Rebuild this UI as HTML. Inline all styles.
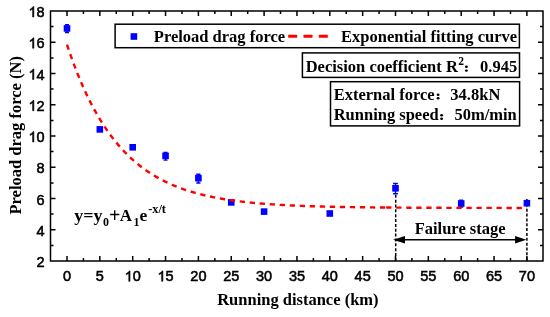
<!DOCTYPE html>
<html><head><meta charset="utf-8"><style>html,body{margin:0;padding:0;background:#fff;}svg{display:block;will-change:transform;}</style></head>
<body>
<svg width="550" height="317" viewBox="0 0 550 317">
<rect width="550" height="317" fill="#fff"/>
<path d="M67.00 261.00V256.00M67.00 11.00V16.00M99.85 261.00V256.00M99.85 11.00V16.00M132.70 261.00V256.00M132.70 11.00V16.00M165.55 261.00V256.00M165.55 11.00V16.00M198.40 261.00V256.00M198.40 11.00V16.00M231.25 261.00V256.00M231.25 11.00V16.00M264.10 261.00V256.00M264.10 11.00V16.00M296.95 261.00V256.00M296.95 11.00V16.00M329.80 261.00V256.00M329.80 11.00V16.00M362.65 261.00V256.00M362.65 11.00V16.00M395.50 261.00V256.00M395.50 11.00V16.00M428.35 261.00V256.00M428.35 11.00V16.00M461.20 261.00V256.00M461.20 11.00V16.00M494.05 261.00V256.00M494.05 11.00V16.00M526.90 261.00V256.00M526.90 11.00V16.00M83.42 261.00V258.00M83.42 11.00V14.00M116.28 261.00V258.00M116.28 11.00V14.00M149.12 261.00V258.00M149.12 11.00V14.00M181.98 261.00V258.00M181.98 11.00V14.00M214.83 261.00V258.00M214.83 11.00V14.00M247.68 261.00V258.00M247.68 11.00V14.00M280.52 261.00V258.00M280.52 11.00V14.00M313.38 261.00V258.00M313.38 11.00V14.00M346.23 261.00V258.00M346.23 11.00V14.00M379.07 261.00V258.00M379.07 11.00V14.00M411.93 261.00V258.00M411.93 11.00V14.00M444.78 261.00V258.00M444.78 11.00V14.00M477.62 261.00V258.00M477.62 11.00V14.00M510.48 261.00V258.00M510.48 11.00V14.00M50.50 245.38H53.50M543.00 245.38H540.00M50.50 229.75H55.50M543.00 229.75H538.00M50.50 214.12H53.50M543.00 214.12H540.00M50.50 198.50H55.50M543.00 198.50H538.00M50.50 182.88H53.50M543.00 182.88H540.00M50.50 167.25H55.50M543.00 167.25H538.00M50.50 151.62H53.50M543.00 151.62H540.00M50.50 136.00H55.50M543.00 136.00H538.00M50.50 120.38H53.50M543.00 120.38H540.00M50.50 104.75H55.50M543.00 104.75H538.00M50.50 89.12H53.50M543.00 89.12H540.00M50.50 73.50H55.50M543.00 73.50H538.00M50.50 57.88H53.50M543.00 57.88H540.00M50.50 42.25H55.50M543.00 42.25H538.00M50.50 26.62H53.50M543.00 26.62H540.00" stroke="#000" stroke-width="1.5" fill="none"/>
<path d="M395.70 194.80V261.00" stroke="#000" stroke-width="1.5" stroke-dasharray="3 1.85" fill="none"/>
<path d="M526.90 199.00V261.00" stroke="#000" stroke-width="1.5" stroke-dasharray="3 1.85" fill="none"/>
<path d="M67.00 24.65V32.45M65.00 24.65H69.00M65.00 32.45H69.00M165.55 152.40V160.10M163.55 152.40H167.55M163.55 160.10H167.55M198.40 174.20V183.00M196.30 174.20H200.50M196.30 183.00H200.50M395.50 183.50V193.70M393.10 183.50H397.90M393.10 193.70H397.90M461.20 200.10V207.10M459.20 200.10H463.20M459.20 207.10H463.20" stroke="#0000ff" stroke-width="1.4" fill="none"/>
<rect x="63.70" y="25.15" width="6.6" height="6.6" fill="#0000ff"/>
<rect x="96.55" y="126.10" width="6.6" height="6.6" fill="#0000ff"/>
<rect x="129.40" y="144.00" width="6.6" height="6.6" fill="#0000ff"/>
<rect x="162.25" y="152.60" width="6.6" height="6.6" fill="#0000ff"/>
<rect x="195.10" y="174.90" width="6.6" height="6.6" fill="#0000ff"/>
<rect x="227.95" y="199.10" width="6.6" height="6.6" fill="#0000ff"/>
<rect x="260.80" y="208.30" width="6.6" height="6.6" fill="#0000ff"/>
<rect x="326.50" y="210.20" width="6.6" height="6.6" fill="#0000ff"/>
<rect x="392.20" y="185.00" width="6.6" height="6.6" fill="#0000ff"/>
<rect x="457.90" y="200.20" width="6.6" height="6.6" fill="#0000ff"/>
<rect x="523.60" y="199.90" width="6.6" height="6.6" fill="#0000ff"/>
<polyline points="67.00,44.64 68.31,48.57 69.63,52.41 70.94,56.16 72.25,59.82 73.57,63.38 74.88,66.87 76.19,70.27 77.51,73.58 78.82,76.82 80.13,79.98 81.45,83.06 82.76,86.07 84.07,89.01 85.39,91.87 86.70,94.67 88.02,97.40 89.33,100.06 90.64,102.66 91.96,105.20 93.27,107.67 94.58,110.09 95.90,112.44 97.21,114.74 98.52,116.99 99.84,119.18 101.15,121.32 102.46,123.41 103.78,125.44 105.09,127.43 106.40,129.37 107.72,131.26 109.03,133.11 110.34,134.92 111.66,136.67 112.97,138.39 114.28,140.07 115.60,141.70 116.91,143.30 118.22,144.86 119.54,146.38 120.85,147.86 122.17,149.31 123.48,150.72 124.79,152.10 126.11,153.45 127.42,154.76 128.73,156.04 130.05,157.29 131.36,158.51 132.67,159.70 133.99,160.87 135.30,162.00 136.61,163.11 137.93,164.19 139.24,165.24 140.55,166.27 141.87,167.28 143.18,168.26 144.49,169.21 145.81,170.15 147.12,171.06 148.43,171.95 149.75,172.81 151.06,173.66 152.37,174.49 153.69,175.29 155.00,176.08 156.32,176.85 157.63,177.60 158.94,178.33 160.26,179.04 161.57,179.74 162.88,180.42 164.20,181.08 165.51,181.73 166.82,182.36 168.14,182.98 169.45,183.58 170.76,184.17 172.08,184.74 173.39,185.30 174.70,185.85 176.02,186.38 177.33,186.90 178.64,187.41 179.96,187.90 181.27,188.39 182.58,188.86 183.90,189.32 185.21,189.77 186.52,190.21 187.84,190.64 189.15,191.05 190.47,191.46 191.78,191.86 193.09,192.25 194.41,192.63 195.72,192.99 197.03,193.36 198.35,193.71 199.66,194.05 200.97,194.39 202.29,194.71 203.60,195.03 204.91,195.34 206.23,195.65 207.54,195.95 208.85,196.24 210.17,196.52 211.48,196.79 212.79,197.06 214.11,197.33 215.42,197.58 216.73,197.83 218.05,198.08 219.36,198.32 220.67,198.55 221.99,198.77 223.30,199.00 224.62,199.21 225.93,199.42 227.24,199.63 228.56,199.83 229.87,200.03 231.18,200.22 232.50,200.40 233.81,200.59 235.12,200.76 236.44,200.94 237.75,201.11 239.06,201.27 240.38,201.43 241.69,201.59 243.00,201.75 244.32,201.90 245.63,202.04 246.94,202.18 248.26,202.32 249.57,202.46 250.88,202.59 252.20,202.72 253.51,202.85 254.82,202.97 256.14,203.09 257.45,203.21 258.77,203.32 260.08,203.44 261.39,203.55 262.71,203.65 264.02,203.76 265.33,203.86 266.65,203.96 267.96,204.05 269.27,204.15 270.59,204.24 271.90,204.33 273.21,204.42 274.53,204.50 275.84,204.59 277.15,204.67 278.47,204.75 279.78,204.83 281.09,204.90 282.41,204.98 283.72,205.05 285.03,205.12 286.35,205.19 287.66,205.25 288.97,205.32 290.29,205.38 291.60,205.45 292.91,205.51 294.23,205.57 295.54,205.62 296.86,205.68 298.17,205.74 299.48,205.79 300.80,205.84 302.11,205.89 303.42,205.94 304.74,205.99 306.05,206.04 307.36,206.09 308.68,206.13 309.99,206.18 311.30,206.22 312.62,206.26 313.93,206.30 315.24,206.34 316.56,206.38 317.87,206.42 319.18,206.46 320.50,206.49 321.81,206.53 323.12,206.56 324.44,206.60 325.75,206.63 327.06,206.66 328.38,206.70 329.69,206.73 331.01,206.76 332.32,206.79 333.63,206.81 334.95,206.84 336.26,206.87 337.57,206.90 338.89,206.92 340.20,206.95 341.51,206.97 342.83,207.00 344.14,207.02 345.45,207.04 346.77,207.06 348.08,207.09 349.39,207.11 350.71,207.13 352.02,207.15 353.33,207.17 354.65,207.19 355.96,207.21 357.27,207.23 358.59,207.24 359.90,207.26 361.21,207.28 362.53,207.29 363.84,207.31 365.16,207.33 366.47,207.34 367.78,207.36 369.10,207.37 370.41,207.39 371.72,207.40 373.04,207.41 374.35,207.43 375.66,207.44 376.98,207.45 378.29,207.47 379.60,207.48 380.92,207.49 382.23,207.50 383.54,207.51 384.86,207.52 386.17,207.54" fill="none" stroke="#ff0000" stroke-width="2.4" stroke-dasharray="5.3 4.73"/>
<polyline points="386.17,207.54 387.49,207.55 388.80,207.56 390.12,207.57 391.43,207.58 392.75,207.59 394.06,207.59 395.38,207.60 396.69,207.61 398.01,207.62 399.32,207.63 400.64,207.64 401.95,207.65 403.27,207.65 404.58,207.66 405.90,207.67 407.21,207.68 408.53,207.68 409.84,207.69 411.16,207.70 412.48,207.70 413.79,207.71 415.11,207.72 416.42,207.72 417.74,207.73 419.05,207.73 420.37,207.74 421.68,207.75 423.00,207.75 424.31,207.76 425.63,207.76 426.94,207.77 428.26,207.77 429.57,207.78 430.89,207.78 432.20,207.79 433.52,207.79 434.83,207.80 436.15,207.80 437.46,207.80 438.78,207.81 440.09,207.81 441.41,207.82 442.73,207.82 444.04,207.82 445.36,207.83 446.67,207.83 447.99,207.83 449.30,207.84 450.62,207.84 451.93,207.84 453.25,207.85 454.56,207.85 455.88,207.85 457.19,207.86 458.51,207.86 459.82,207.86 461.14,207.86 462.45,207.87 463.77,207.87 465.08,207.87 466.40,207.87 467.71,207.88 469.03,207.88 470.35,207.88 471.66,207.88 472.98,207.88 474.29,207.89 475.61,207.89 476.92,207.89 478.24,207.89 479.55,207.89 480.87,207.90 482.18,207.90 483.50,207.90 484.81,207.90 486.13,207.90 487.44,207.91 488.76,207.91 490.07,207.91 491.39,207.91 492.70,207.91 494.02,207.91 495.33,207.91 496.65,207.92 497.96,207.92 499.28,207.92 500.60,207.92 501.91,207.92 503.23,207.92 504.54,207.92 505.86,207.92 507.17,207.93 508.49,207.93 509.80,207.93 511.12,207.93 512.43,207.93 513.75,207.93 515.06,207.93 516.38,207.93 517.69,207.93 519.01,207.93 520.32,207.94 521.64,207.94 522.95,207.94 524.27,207.94 525.58,207.94 526.90,207.94" fill="none" stroke="#ff0000" stroke-width="2.4" stroke-dasharray="5.3 4.73"/>
<rect x="50.5" y="11.0" width="492.5" height="250.0" fill="none" stroke="#000" stroke-width="1.5"/>
<path d="M403.00 239.8H516.30" stroke="#000" stroke-width="1.6"/>
<path d="M393.00 239.8L405.00 236.10000000000002L405.00 243.5Z M526.30 239.8L515.10 236.10000000000002L515.10 243.5Z" fill="#000"/>
<text x="36.54" y="267.00" font-family="Liberation Sans" font-size="14.5" stroke="#000" stroke-width="0.55">2</text>
<text x="36.54" y="235.75" font-family="Liberation Sans" font-size="14.5" stroke="#000" stroke-width="0.55">4</text>
<text x="36.54" y="204.50" font-family="Liberation Sans" font-size="14.5" stroke="#000" stroke-width="0.55">6</text>
<text x="36.54" y="173.25" font-family="Liberation Sans" font-size="14.5" stroke="#000" stroke-width="0.55">8</text>
<path transform="translate(28.47 142.00) scale(0.007080 -0.007080)" d="M763 0L583 0L583 1147Q518 1085 412.5 1023Q307 961 223 930L223 1104Q374 1175 486.5 1276Q599 1377 647 1472L763 1472Z" fill="#000" stroke="#000" stroke-width="77.7"/>
<text x="36.54" y="142.00" font-family="Liberation Sans" font-size="14.5" stroke="#000" stroke-width="0.55">0</text>
<path transform="translate(28.47 110.75) scale(0.007080 -0.007080)" d="M763 0L583 0L583 1147Q518 1085 412.5 1023Q307 961 223 930L223 1104Q374 1175 486.5 1276Q599 1377 647 1472L763 1472Z" fill="#000" stroke="#000" stroke-width="77.7"/>
<text x="36.54" y="110.75" font-family="Liberation Sans" font-size="14.5" stroke="#000" stroke-width="0.55">2</text>
<path transform="translate(28.47 79.50) scale(0.007080 -0.007080)" d="M763 0L583 0L583 1147Q518 1085 412.5 1023Q307 961 223 930L223 1104Q374 1175 486.5 1276Q599 1377 647 1472L763 1472Z" fill="#000" stroke="#000" stroke-width="77.7"/>
<text x="36.54" y="79.50" font-family="Liberation Sans" font-size="14.5" stroke="#000" stroke-width="0.55">4</text>
<path transform="translate(28.47 48.25) scale(0.007080 -0.007080)" d="M763 0L583 0L583 1147Q518 1085 412.5 1023Q307 961 223 930L223 1104Q374 1175 486.5 1276Q599 1377 647 1472L763 1472Z" fill="#000" stroke="#000" stroke-width="77.7"/>
<text x="36.54" y="48.25" font-family="Liberation Sans" font-size="14.5" stroke="#000" stroke-width="0.55">6</text>
<path transform="translate(28.47 17.00) scale(0.007080 -0.007080)" d="M763 0L583 0L583 1147Q518 1085 412.5 1023Q307 961 223 930L223 1104Q374 1175 486.5 1276Q599 1377 647 1472L763 1472Z" fill="#000" stroke="#000" stroke-width="77.7"/>
<text x="36.54" y="17.00" font-family="Liberation Sans" font-size="14.5" stroke="#000" stroke-width="0.55">8</text>
<text x="62.97" y="281.30" font-family="Liberation Sans" font-size="14.5" stroke="#000" stroke-width="0.55">0</text>
<text x="95.82" y="281.30" font-family="Liberation Sans" font-size="14.5" stroke="#000" stroke-width="0.55">5</text>
<path transform="translate(124.64 281.30) scale(0.007080 -0.007080)" d="M763 0L583 0L583 1147Q518 1085 412.5 1023Q307 961 223 930L223 1104Q374 1175 486.5 1276Q599 1377 647 1472L763 1472Z" fill="#000" stroke="#000" stroke-width="77.7"/>
<text x="132.70" y="281.30" font-family="Liberation Sans" font-size="14.5" stroke="#000" stroke-width="0.55">0</text>
<path transform="translate(157.49 281.30) scale(0.007080 -0.007080)" d="M763 0L583 0L583 1147Q518 1085 412.5 1023Q307 961 223 930L223 1104Q374 1175 486.5 1276Q599 1377 647 1472L763 1472Z" fill="#000" stroke="#000" stroke-width="77.7"/>
<text x="165.55" y="281.30" font-family="Liberation Sans" font-size="14.5" stroke="#000" stroke-width="0.55">5</text>
<text x="190.34" y="281.30" font-family="Liberation Sans" font-size="14.5" stroke="#000" stroke-width="0.55">2</text>
<text x="198.40" y="281.30" font-family="Liberation Sans" font-size="14.5" stroke="#000" stroke-width="0.55">0</text>
<text x="223.19" y="281.30" font-family="Liberation Sans" font-size="14.5" stroke="#000" stroke-width="0.55">2</text>
<text x="231.25" y="281.30" font-family="Liberation Sans" font-size="14.5" stroke="#000" stroke-width="0.55">5</text>
<text x="256.04" y="281.30" font-family="Liberation Sans" font-size="14.5" stroke="#000" stroke-width="0.55">3</text>
<text x="264.10" y="281.30" font-family="Liberation Sans" font-size="14.5" stroke="#000" stroke-width="0.55">0</text>
<text x="288.89" y="281.30" font-family="Liberation Sans" font-size="14.5" stroke="#000" stroke-width="0.55">3</text>
<text x="296.95" y="281.30" font-family="Liberation Sans" font-size="14.5" stroke="#000" stroke-width="0.55">5</text>
<text x="321.74" y="281.30" font-family="Liberation Sans" font-size="14.5" stroke="#000" stroke-width="0.55">4</text>
<text x="329.80" y="281.30" font-family="Liberation Sans" font-size="14.5" stroke="#000" stroke-width="0.55">0</text>
<text x="354.59" y="281.30" font-family="Liberation Sans" font-size="14.5" stroke="#000" stroke-width="0.55">4</text>
<text x="362.65" y="281.30" font-family="Liberation Sans" font-size="14.5" stroke="#000" stroke-width="0.55">5</text>
<text x="387.44" y="281.30" font-family="Liberation Sans" font-size="14.5" stroke="#000" stroke-width="0.55">5</text>
<text x="395.50" y="281.30" font-family="Liberation Sans" font-size="14.5" stroke="#000" stroke-width="0.55">0</text>
<text x="420.29" y="281.30" font-family="Liberation Sans" font-size="14.5" stroke="#000" stroke-width="0.55">5</text>
<text x="428.35" y="281.30" font-family="Liberation Sans" font-size="14.5" stroke="#000" stroke-width="0.55">5</text>
<text x="453.14" y="281.30" font-family="Liberation Sans" font-size="14.5" stroke="#000" stroke-width="0.55">6</text>
<text x="461.20" y="281.30" font-family="Liberation Sans" font-size="14.5" stroke="#000" stroke-width="0.55">0</text>
<text x="485.99" y="281.30" font-family="Liberation Sans" font-size="14.5" stroke="#000" stroke-width="0.55">6</text>
<text x="494.05" y="281.30" font-family="Liberation Sans" font-size="14.5" stroke="#000" stroke-width="0.55">5</text>
<text x="518.84" y="281.30" font-family="Liberation Sans" font-size="14.5" stroke="#000" stroke-width="0.55">7</text>
<text x="526.90" y="281.30" font-family="Liberation Sans" font-size="14.5" stroke="#000" stroke-width="0.55">0</text>
<text x="217.20" y="304.80" font-family="Liberation Serif" font-weight="bold" font-size="16.5" text-anchor="start"  >Running distance (km)</text>
<text transform="translate(20.8 214.5) rotate(-90)" x="0" y="0" font-family="Liberation Serif" font-weight="bold" font-size="16.5">Preload drag force (N)</text>
<rect x="115.1" y="24.2" width="404.3" height="23.5" fill="#fff" stroke="#000" stroke-width="1.5"/>
<rect x="130.6" y="33.2" width="6.6" height="6.6" fill="#0000ff"/>
<text x="153.80" y="41.60" font-family="Liberation Serif" font-weight="bold" font-size="16.5" text-anchor="start"  >Preload drag force</text>
<path d="M288.2 36.2H328" stroke="#ff0000" stroke-width="3" stroke-dasharray="9 6.3"/>
<text x="341.10" y="41.60" font-family="Liberation Serif" font-weight="bold" font-size="16.5" text-anchor="start"  >Exponential fitting curve</text>
<rect x="302.4" y="52.9" width="217.1" height="24.5" fill="#fff" stroke="#000" stroke-width="1.5"/>
<text x="305.70" y="72.40" font-family="Liberation Serif" font-weight="bold" font-size="16.5" text-anchor="start"  >Decision coefficient R</text>
<text x="458.20" y="64.90" font-family="Liberation Serif" font-weight="bold" font-size="11.5" text-anchor="start"  >2</text>
<text x="517.20" y="72.20" font-family="Liberation Serif" font-weight="bold" font-size="16.5" text-anchor="end"  >0.945</text>
<rect x="330.5" y="81.7" width="189.1" height="44.2" fill="#fff" stroke="#000" stroke-width="1.5"/>
<text x="333.70" y="99.50" font-family="Liberation Serif" font-weight="bold" font-size="16.5" text-anchor="start"  >External force</text>
<text x="500.30" y="99.50" font-family="Liberation Serif" font-weight="bold" font-size="16.5" text-anchor="end"  >34.8kN</text>
<text x="333.70" y="119.50" font-family="Liberation Serif" font-weight="bold" font-size="16.5" text-anchor="start"  >Running speed</text>
<text x="516.80" y="119.50" font-family="Liberation Serif" font-weight="bold" font-size="16.5" text-anchor="end"  >50m/min</text>
<ellipse cx="466.4" cy="66.8" rx="1.45" ry="1.2" fill="#000"/><ellipse cx="466.4" cy="70.6" rx="1.45" ry="1.2" fill="#000"/>
<ellipse cx="438.1" cy="94.8" rx="1.45" ry="1.2" fill="#000"/><ellipse cx="438.1" cy="98.2" rx="1.45" ry="1.2" fill="#000"/>
<ellipse cx="441.6" cy="115.3" rx="1.45" ry="1.2" fill="#000"/><ellipse cx="441.6" cy="118.8" rx="1.45" ry="1.2" fill="#000"/>
<text x="74.20" y="220.70" font-family="Liberation Serif" font-weight="bold" font-size="16.5" text-anchor="start"  textLength="28.2" lengthAdjust="spacingAndGlyphs">y=y</text>
<text x="102.90" y="225.80" font-family="Liberation Serif" font-weight="bold" font-size="12" text-anchor="start"  >0</text>
<text x="109.00" y="221.80" font-family="Liberation Serif" font-weight="bold" font-size="20" text-anchor="start"  >+</text>
<text x="119.80" y="220.70" font-family="Liberation Serif" font-weight="bold" font-size="17" text-anchor="start"  >A</text>
<text x="133.40" y="225.60" font-family="Liberation Serif" font-weight="bold" font-size="12" text-anchor="start"  >1</text>
<text x="139.50" y="220.70" font-family="Liberation Serif" font-weight="bold" font-size="17.5" text-anchor="start"  >e</text>
<text x="148.20" y="212.80" font-family="Liberation Serif" font-weight="bold" font-size="12.3" text-anchor="start"  >-x/t</text>
<text x="414.70" y="234.10" font-family="Liberation Serif" font-weight="bold" font-size="16.5" text-anchor="start"  >Failure stage</text>
</svg>
</body></html>
